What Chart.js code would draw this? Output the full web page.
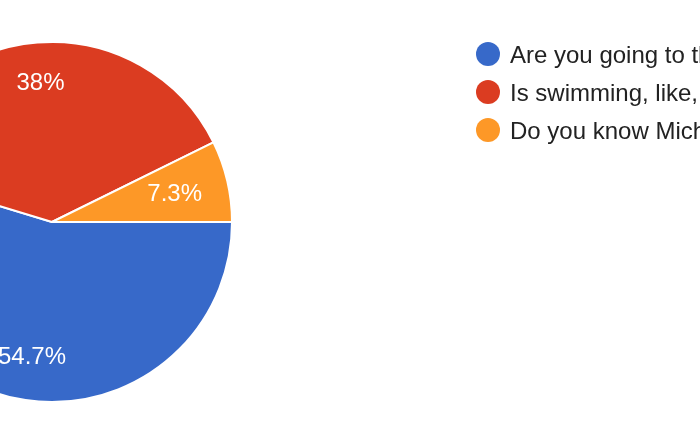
<!DOCTYPE html>
<html>
<head>
<meta charset="utf-8">
<script src="https://cdn.jsdelivr.net/npm/chart.js@4.4.1/dist/chart.umd.min.js"></script>
<style>
  html, body { margin: 0; padding: 0; background: #fff; }
  #wrap { width: 700px; height: 446px; position: relative; overflow: hidden; }
  canvas { display: block; position: absolute; left: -128px; top: 0; }
</style>
</head>
<body>
<div id="wrap"><canvas id="c" width="828" height="446"></canvas></div>
<script>
const categories = [
  "Are you going to the pool today?",
  "Is swimming, like, your thing?",
  "Do you know Michael Phelps?"
];
const percentages = [54.7, 38, 7.3];
const sliceColors = ["#3769C9", "#DB3C21", "#FD9827"];

const FONT = "'Liberation Sans', Arial, sans-serif";
const SHIFT = 128; // canvas is shifted left so the pie is cropped like the reference

const sliceLabels = {
  id: 'sliceLabels',
  afterDatasetsDraw(chart, args, opts) {
    const ctx = chart.ctx;
    const meta = chart.getDatasetMeta(0);
    const values = chart.data.datasets[0].data;
    ctx.save();
    ctx.fillStyle = '#ffffff';
    ctx.font = opts.fontSize + 'px ' + FONT;
    ctx.textAlign = 'center';
    ctx.textBaseline = 'middle';
    meta.data.forEach((arc, i) => {
      const p = arc.getProps(['x', 'y', 'startAngle', 'endAngle', 'outerRadius'], true);
      const mid = (p.startAngle + p.endAngle) / 2;
      const r = p.outerRadius * opts.radiusFactors[i];
      ctx.fillText(values[i] + '%', p.x + Math.cos(mid) * r, p.y + Math.sin(mid) * r + 1);
    });
    ctx.restore();
  }
};

const sideLegend = {
  id: 'sideLegend',
  afterDraw(chart, args, opts) {
    const ctx = chart.ctx;
    const colors = chart.data.datasets[0].backgroundColor;
    ctx.save();
    ctx.font = opts.fontSize + 'px ' + FONT;
    ctx.textAlign = 'left';
    ctx.textBaseline = 'alphabetic';
    chart.data.labels.forEach((lab, i) => {
      const cy = opts.y0 + i * opts.step;
      ctx.beginPath();
      ctx.arc(opts.x0 + SHIFT, cy, opts.dot, 0, Math.PI * 2);
      ctx.fillStyle = colors[i];
      ctx.fill();
      ctx.fillStyle = '#222222';
      ctx.fillText(lab, opts.textX + SHIFT, cy + 9);
    });
    ctx.restore();
  }
};

new Chart(document.getElementById('c'), {
  type: 'pie',
  data: {
    labels: categories,
    datasets: [{
      data: percentages,
      backgroundColor: sliceColors,
      borderColor: '#ffffff',
      borderWidth: 2,
      hoverOffset: 0
    }]
  },
  options: {
    responsive: false,
    animation: false,
    rotation: 90,
    radius: 180,
    layout: { padding: { left: 0, right: 468, top: 42, bottom: 44 } },
    plugins: {
      legend: { display: false },
      tooltip: { enabled: false },
      sliceLabels: { fontSize: 24, radiusFactors: [0.755, 0.78, 0.70] },
      sideLegend: { x0: 488, y0: 54, step: 38, dot: 12, textX: 510, fontSize: 24 }
    }
  },
  plugins: [sliceLabels, sideLegend]
});
</script>
</body>
</html>
